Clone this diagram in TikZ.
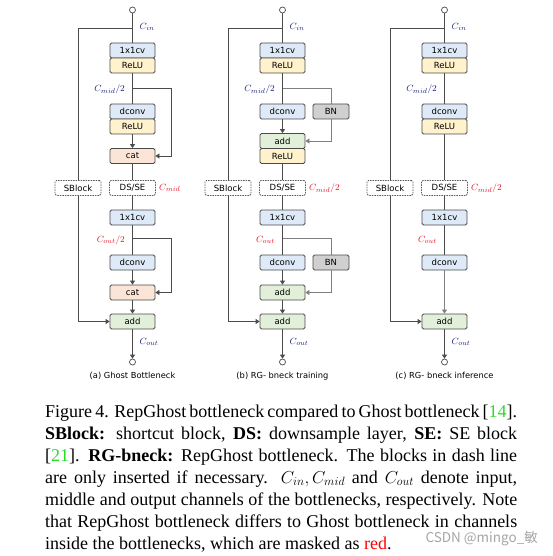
\documentclass[tikz,border=0pt]{standalone}
\usepackage{fontspec}
\setmainfont{Liberation Serif}
\setsansfont{DejaVu Sans}
\newfontfamily\cjkfont{Noto Sans CJK SC}
\usetikzlibrary{arrows.meta, positioning, calc}
\definecolor{CvBlue}{RGB}{222,234,247}
\definecolor{ReluYellow}{RGB}{255,242,204}
\definecolor{CatPeach}{RGB}{251,229,214}
\definecolor{AddGreen}{RGB}{226,240,217}
\definecolor{BNGray}{RGB}{208,208,208}
\definecolor{ChanNavy}{RGB}{25,35,120}
\definecolor{ChanRed}{RGB}{235,20,40}
\definecolor{CiteGreen}{RGB}{40,220,40}
\definecolor{LineGray}{RGB}{75,75,75}

\begin{document}
\begin{tikzpicture}[x=1pt, y=-1pt,
	blk/.style={draw=LineGray, line width=0.8pt, rounded corners=1.5pt, minimum width=45pt, minimum height=15pt, inner sep=0pt, font=\sffamily\fontsize{8.5}{9}\selectfont},
	cv/.style={blk, fill=CvBlue},
	relu/.style={blk, fill=ReluYellow},
	catb/.style={blk, fill=CatPeach},
	addb/.style={blk, fill=AddGreen},
	bn/.style={blk, fill=BNGray, minimum width=36pt},
	opt/.style={blk, draw=black!65, dash pattern=on 1.5pt off 1pt, fill=white, minimum width=46pt},
	io/.style={circle, draw=LineGray, line width=0.7pt, fill=white, inner sep=0pt, minimum size=6pt},
	ch/.style={font=\fontsize{9.5}{10}\selectfont, text=ChanNavy, inner sep=1pt},
	chred/.style={ch, text=ChanRed},
	ln/.style={draw=LineGray, line width=0.8pt},
	arr/.style={ln, -{Triangle[length=4pt, width=5pt]}},
	lite/.style={draw=black!50}]
	\path[fill=white] (0,0) rectangle (552,556);
	% shared part of the three bottlenecks
	\foreach \c/\x/\s/\lab in {a/132.5/78/{(a) Ghost Bottleneck}, b/282.5/228/{(b) RG- bneck training}, c/444.5/390/{(c) RG- bneck inference}}{
		\node[io] (in\c) at (\x,10) {};
		\node[cv] (cvi\c) at (\x,50.5) {1x1cv};
		\node[relu] (rli\c) at (\x,65.5) {ReLU};
		\node[cv] (dci\c) at (\x,111.5) {dconv};
		\node[opt] (sb\c) at (\s,188) {SBlock};
		\node[opt] (ds\c) at (\x,188) {DS/SE};
		\node[cv] (cvo\c) at (\x,217.5) {1x1cv};
		\node[cv] (dco\c) at (\x,262.5) {dconv};
		\node[addb] (sum\c) at (\x,321.5) {add};
		\node[io] (out\c) at (\x,362) {};
		\node[font=\sffamily\fontsize{8.3}{9}\selectfont] (cap\c) at (\x,376) {\lab};
		\node[ch, anchor=west] (lin\c) at (\x+6,27) {$C_{in}$};
		\node[ch, anchor=west] (lout\c) at (\x+6,342) {$C_{out}$};
		\coordinate (sj\c) at (\x,28);
		\draw[ln] (in\c) -- (cvi\c);
		\draw[ln] (rli\c) -- (dci\c);
		\draw[ln] (sj\c) -| (sb\c);
		\draw[arr] (sb\c) |- (sum\c);
		\draw[ln] (ds\c) -- (cvo\c);
		\draw[ln] (cvo\c) -- (dco\c);
		\draw[arr] (sum\c) -- (out\c);
	}
	% (a) Ghost bottleneck
	\node[relu] (rlma) at (132.5,126.5) {ReLU};
	\node[catb] (cata1) at (132.5,156) {cat};
	\node[catb] (cata2) at (132.5,292.5) {cat};
	\coordinate (ja1) at (132.5,88); \coordinate (ba1) at (171,88);
	\coordinate (ja2) at (132.5,238); \coordinate (ba2) at (171,238);
	\draw[arr] (ja1) -- (ba1) |- (cata1);
	\draw[arr] (rlma) -- (cata1);
	\draw[ln] (cata1) -- (dsa);
	\draw[arr] (ja2) -- (ba2) |- (cata2);
	\draw[arr] (dcoa) -- (cata2);
	\draw[arr] (cata2) -- (suma);
	\node[ch, anchor=east] (lmida) at (126,89) {$C_{mid}/2$};
	\node[chred, anchor=west] (lrmida) at (158,188) {$C_{mid}$};
	\node[chred, anchor=east] (lrouta) at (126,240) {$C_{out}/2$};
	% (b) training
	\node[addb] (addb1) at (282.5,141) {add};
	\node[relu] (rlmb) at (282.5,156) {ReLU};
	\node[bn] (bnb1) at (331,111.5) {BN};
	\node[bn] (bnb2) at (331,262.5) {BN};
	\node[addb] (addb2) at (282.5,292.5) {add};
	\coordinate (jb1) at (282.5,88); \coordinate (jb2) at (282.5,238);
	\draw[ln, lite] (jb1) -| (bnb1);
	\draw[arr] (dcib) -- (addb1);
	\draw[arr, lite] (bnb1) |- (addb1);
	\draw[ln] (rlmb) -- (dsb);
	\draw[ln, lite] (jb2) -| (bnb2);
	\draw[arr] (dcob) -- (addb2);
	\draw[arr, lite] (bnb2) |- (addb2);
	\draw[arr] (addb2) -- (sumb);
	\node[ch, anchor=east] (lmidb) at (276,89) {$C_{mid}/2$};
	\node[chred, anchor=west] (lrmidb) at (308,188) {$C_{mid}/2$};
	\node[chred, anchor=east] (lroutb) at (276,240) {$C_{out}$};
	% (c) inference
	\node[relu] (rlmc) at (444.5,126.5) {ReLU};
	\draw[ln] (rlmc) -- (dsc);
	\draw[arr, lite] (dcoc) -- (sumc);
	\node[ch, anchor=east] (lmidc) at (438,89) {$C_{mid}/2$};
	\node[chred, anchor=west] (lrmidc) at (470,188) {$C_{mid}/2$};
	\node[chred, anchor=east] (lroutc) at (438,240) {$C_{out}$};
	% caption
	\node[anchor=north west, inner sep=0pt, text width=472pt, align=justify, font=\fontsize{18}{22}\selectfont] (caption) at (45,404.5)
		{Figure 4. RepGhost bottleneck compared to Ghost bottleneck [\textcolor{CiteGreen}{14}].\linebreak
		\textbf{SBlock:} shortcut block, \textbf{DS:} downsample layer, \textbf{SE:} SE block\linebreak{}
		[\textcolor{CiteGreen}{21}]. \textbf{RG-bneck:} RepGhost bottleneck. The blocks in dash line\linebreak
		are only inserted if necessary. $C_{in}, C_{mid}$ and $C_{out}$ denote input,\linebreak
		middle and output channels of the bottlenecks, respectively. Note\linebreak
		that RepGhost bottleneck differs to Ghost bottleneck in channels\linebreak
		inside the bottlenecks, which are masked as \textcolor{red}{red}.};
	\node[anchor=east, inner sep=0pt, font=\cjkfont\fontsize{13.5}{15}\selectfont, text=black!35] (mark) at (538,539) {CSDN @mingo\_敏};
\end{tikzpicture}
\end{document}
